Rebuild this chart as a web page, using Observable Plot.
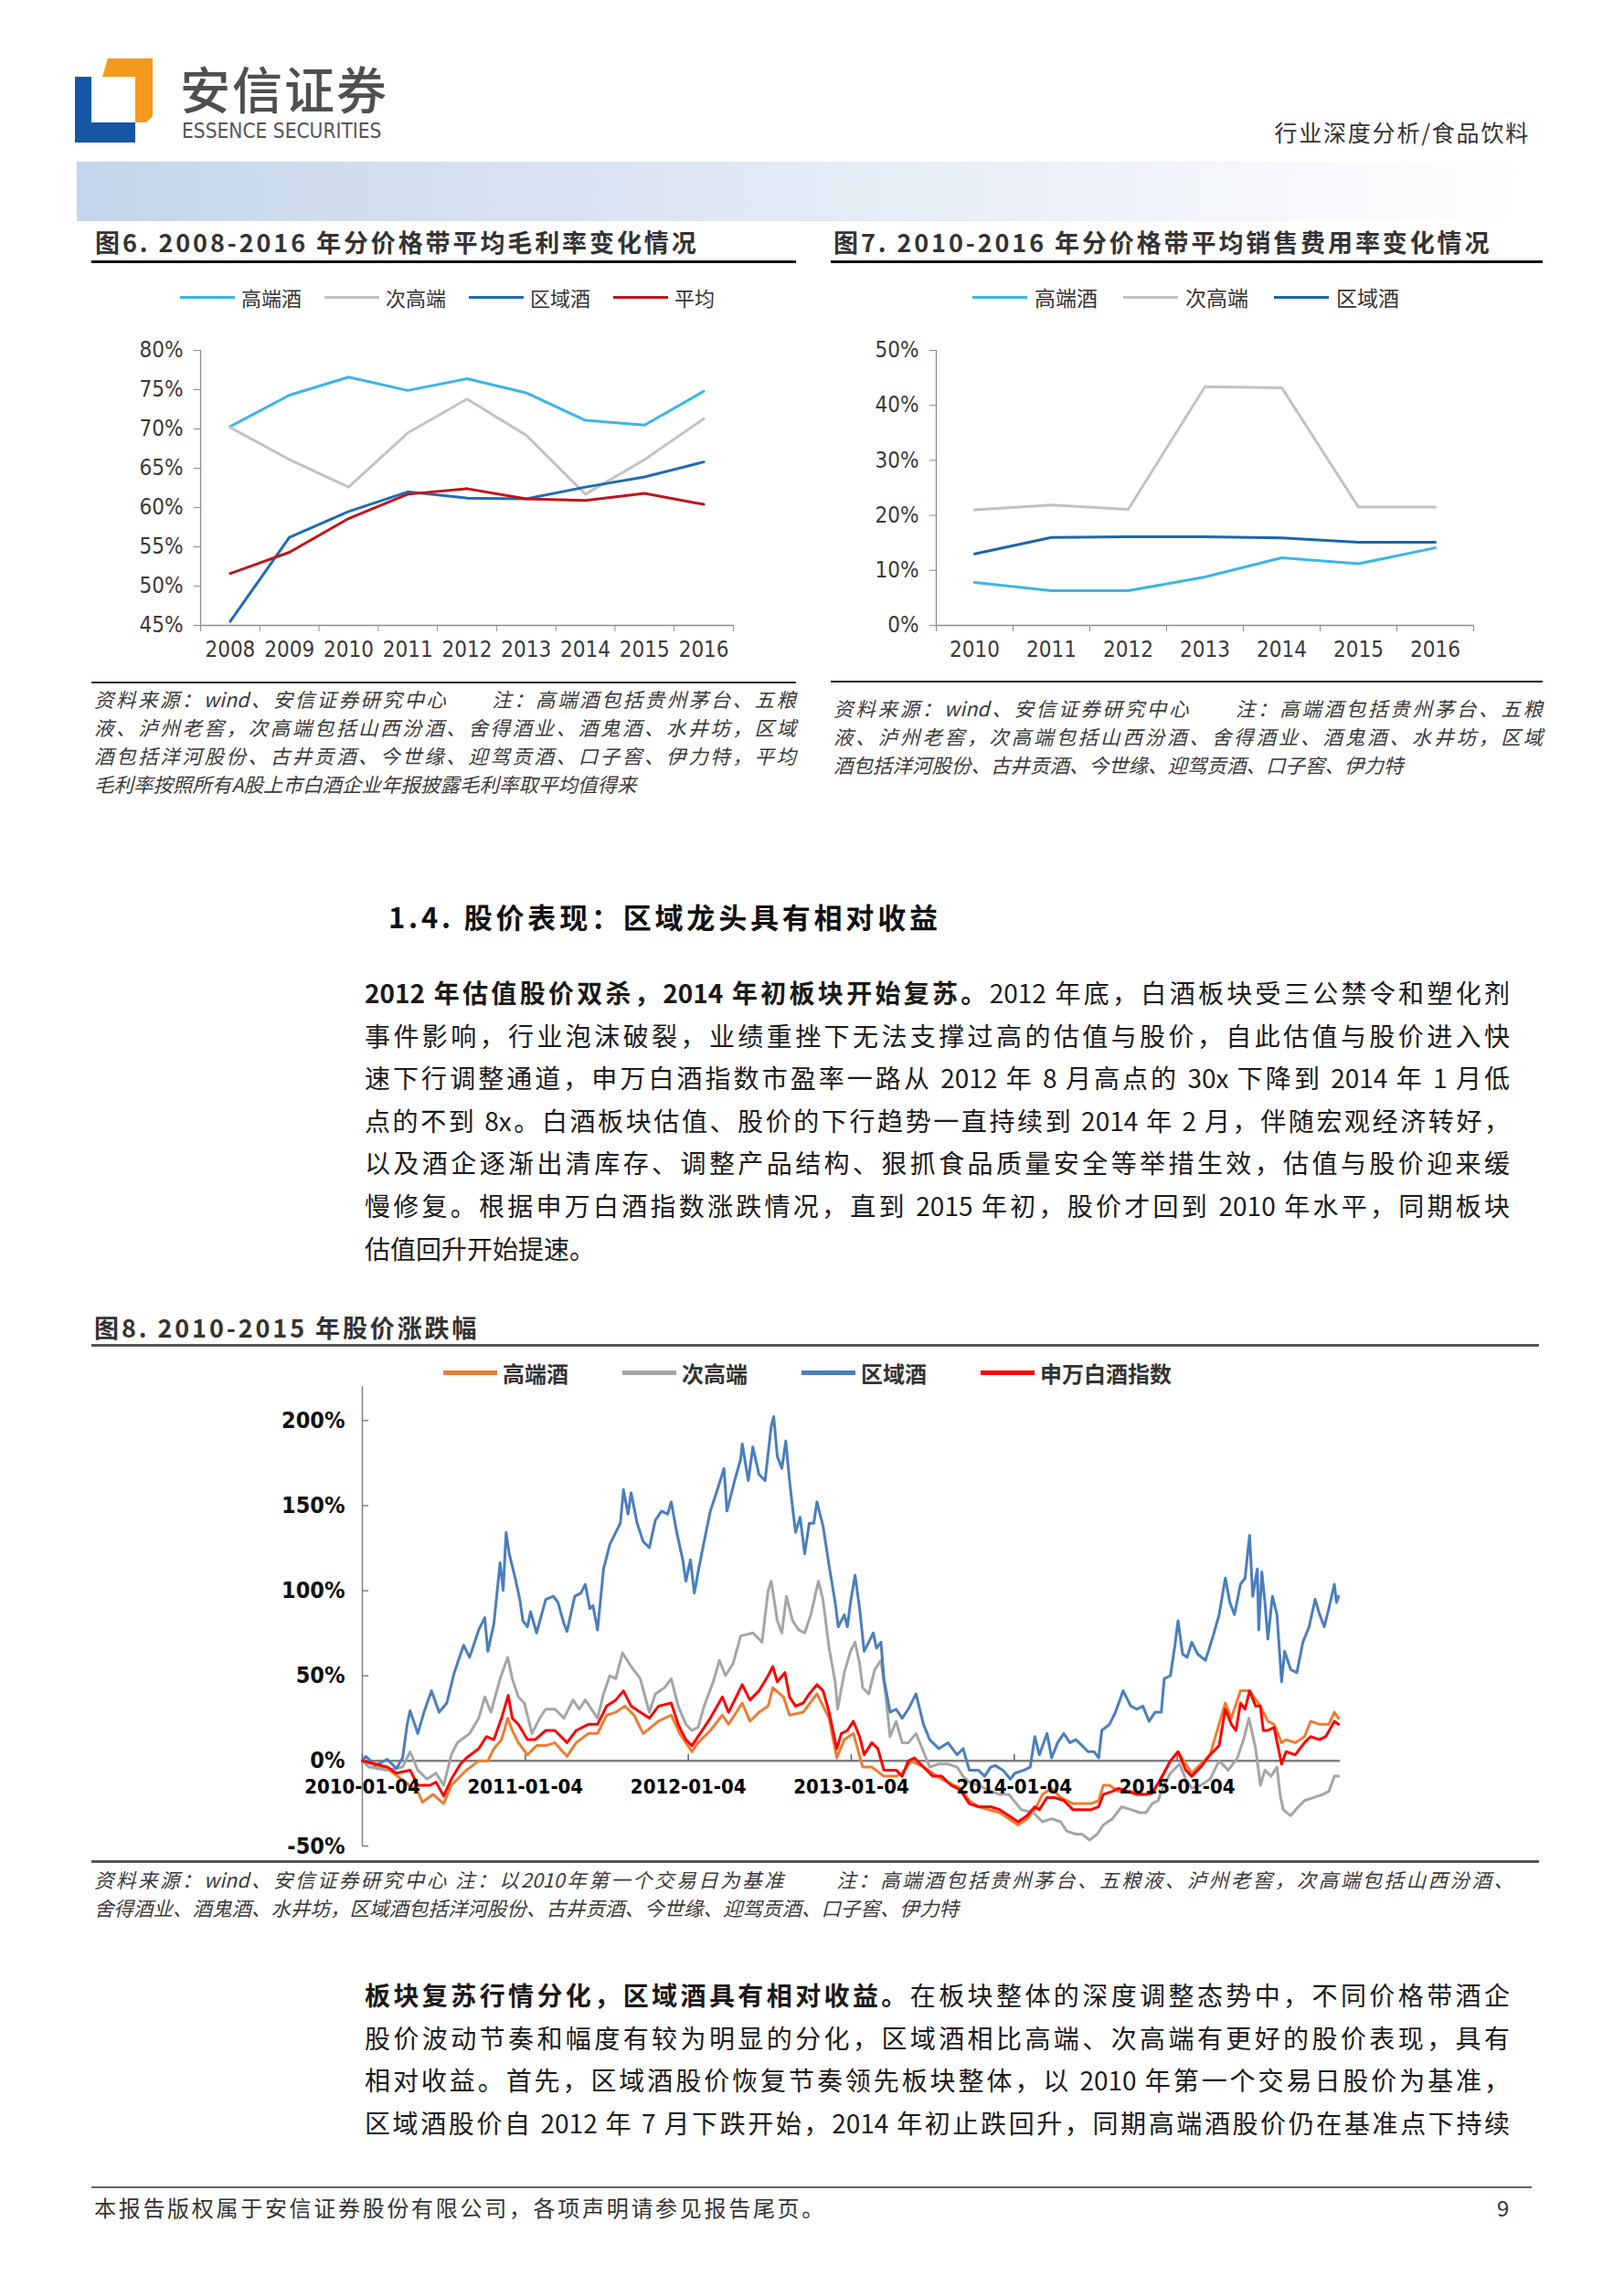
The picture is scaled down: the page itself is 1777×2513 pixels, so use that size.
<!DOCTYPE html>
<html><head><meta charset="utf-8">
<script src="https://cdn.jsdelivr.net/npm/d3@7"></script>
<script src="https://cdn.jsdelivr.net/npm/@observablehq/plot@0.6"></script>
<style>
html,body{margin:0;padding:0;background:#fff;}
body{width:1777px;height:2513px;position:relative;overflow:hidden;font-family:"Noto Sans CJK SC",sans-serif;color:#222;}
.abs{position:absolute;white-space:nowrap;}
.ttl{position:absolute;font-weight:700;font-size:27px;color:#333;line-height:40px;white-space:nowrap;letter-spacing:2.9px;}
.hr{position:absolute;}
.src{position:absolute;font-size:21.5px;font-style:italic;color:#3a3a3a;}
.src div{text-align:justify;text-align-last:justify;line-height:31px;height:31px;}
.src div.last{text-align-last:left;}
.para{position:absolute;left:399px;width:1253px;font-size:28px;color:#1a1a1a;}
.para div{text-align:justify;text-align-last:justify;line-height:46.6px;height:46.6px;}
.para div.last{text-align-last:left;}
.leg{position:absolute;display:flex;align-items:center;white-space:nowrap;}
.leg .it{display:flex;align-items:center;}
.leg .ln{display:inline-block;}
.plot{position:absolute;}
.plot svg{overflow:visible;}
</style></head>
<body>
<script>
// ---------------- data: chart 6 (gross margin, %) ----------------
const years6 = [2008, 2009, 2010, 2011, 2012, 2013, 2014, 2015, 2016];
const names6 = ["高端酒", "次高端", "区域酒", "平均"];
const colors6 = ["#3db5e6", "#c2c2c6", "#1f6db3", "#c0141c"];
const gmHigh = [70.3, 74.3, 76.6, 74.9, 76.4, 74.6, 71.1, 70.5, 74.8];
const gmSub  = [70.2, 66.1, 62.6, 69.5, 73.8, 69.2, 61.7, 66.1, 71.3];
const gmReg  = [45.5, 56.2, 59.5, 62.0, 61.2, 61.1, 62.6, 63.9, 65.8];
const gmAvg  = [51.6, 54.3, 58.6, 61.7, 62.4, 61.1, 60.9, 61.8, 60.4];
const yTicks6 = [45, 50, 55, 60, 65, 70, 75, 80];

// ---------------- data: chart 7 (selling expense ratio, %) ----------------
const years7 = [2010, 2011, 2012, 2013, 2014, 2015, 2016];
const names7 = ["高端酒", "次高端", "区域酒"];
const colors7 = ["#3db5e6", "#c2c2c6", "#1a66ad"];
const seHigh = [7.8, 6.3, 6.3, 8.8, 12.3, 11.2, 14.1];
const seSub  = [21.0, 21.9, 21.1, 43.4, 43.2, 21.5, 21.5];
const seReg  = [13.0, 16.0, 16.1, 16.1, 15.9, 15.1, 15.1];
const yTicks7 = [0, 10, 20, 30, 40, 50];

// ---------------- data: chart 8 (price change since 2010-01-04, %) ----------------
// t = years after 2010-01-04
const names8 = ["高端酒", "次高端", "区域酒", "申万白酒指数"];
const colors8 = ["#ed7d31", "#a5a5a5", "#4a7ebf", "#ff0000"];
const yearTicks8 = [2010, 2011, 2012, 2013, 2014, 2015];
const yearLabels8 = ["2010-01-04", "2011-01-04", "2012-01-04", "2013-01-04", "2014-01-04", "2015-01-04"];
const yTicks8 = [-50, 0, 50, 100, 150, 200];

const hiT = [0,.153,.340,.368,.434,.499,.546,.639,.714,.770,.807,.854,.892,.920,.957,1.013,1.069,1.125,1.181,1.256,1.312,1.387,1.443,1.499,1.555,1.611,1.667,1.723,1.817,1.895,1.948,2.022,2.060,2.135,2.209,2.247,2.331,2.378,2.434,2.490,2.518,2.584,2.621,2.705,2.789,2.864,2.911,2.957,3.013,3.070,3.126,3.200,3.275,3.312,3.369,3.443,3.555,3.668,3.724,3.780,3.911,4.023,4.079,4.126,4.173,4.229,4.285,4.360,4.416,4.472,4.518,4.546,4.584,4.640,4.715,4.789,4.846,4.902,4.958,5.005,5.089,5.201,5.295,5.332,5.388,5.444,5.510,5.556,5.594,5.640,5.668,5.724,5.781,5.818,5.874,5.930,5.964,5.990];
const hiV = [0,-4.5,-17.9,-24.2,-19.7,-25.1,-14.3,-5.4,0,0,7.2,12.5,25.1,17.9,10.7,3.6,9.0,9.0,10.7,2.7,10.7,16.1,16.1,26.9,28.6,32.2,26.9,16.1,23.3,26.9,16.1,5.4,10.7,17.9,26.9,21.5,34.0,23.3,28.6,32.2,43.0,37.6,26.9,28.6,39.4,25.1,1.8,12.5,16.1,-3.6,-3.6,-9.0,-9.0,-7.2,0,-3.6,-10.7,-16.0,-23.3,-26.9,-30.4,-37.6,-34.0,-28.6,-19.7,-16.1,-21.5,-25.1,-25.1,-25.1,-23.3,-14.3,-14.3,-17.9,-17.9,-19.7,-19.0,-10.0,0,5.4,-7.2,3.6,34.0,25.1,41.2,41.2,32.2,23.3,21.5,10.7,12.5,10.7,14.3,23.3,21.5,21.5,28.6,25.1];

const subT = [0,.041,.153,.247,.293,.340,.396,.452,.499,.546,.583,.658,.714,.751,.789,.845,.892,.920,.957,.994,1.041,1.088,1.125,1.181,1.237,1.293,1.331,1.368,1.443,1.480,1.518,1.555,1.596,1.649,1.705,1.761,1.798,1.854,1.895,1.938,1.985,2.022,2.060,2.097,2.153,2.191,2.228,2.275,2.321,2.396,2.452,2.490,2.509,2.546,2.574,2.602,2.640,2.677,2.714,2.752,2.798,2.826,2.864,2.901,2.916,2.957,2.995,3.023,3.051,3.070,3.107,3.144,3.182,3.210,3.238,3.275,3.312,3.350,3.397,3.443,3.481,3.537,3.593,3.649,3.686,3.724,3.780,3.855,3.911,3.967,4.042,4.117,4.173,4.229,4.285,4.322,4.378,4.416,4.462,4.509,4.546,4.602,4.659,4.715,4.771,4.808,4.846,4.883,4.902,4.958,5.014,5.052,5.089,5.145,5.201,5.257,5.313,5.369,5.407,5.440,5.481,5.510,5.538,5.575,5.612,5.631,5.650,5.696,5.743,5.781,5.837,5.893,5.930,5.964,5.990];
const subV = [0,-3.6,-5.4,-3.6,5.4,-5.4,-10.7,-7.2,-14.3,3.6,10.7,16.1,25.1,37.6,28.6,48.3,60.9,48.3,37.6,34.0,16.1,25.1,30.4,30.4,25.1,35.8,30.4,35.8,25.1,39.4,50.1,48.3,63.5,55.5,48.3,28.6,39.4,43.0,48.3,32.2,21.5,17.9,19.7,32.2,46.5,59.1,50.1,57.3,73.4,75.2,69.8,100.2,105.6,82.3,75.2,96.7,82.3,77.0,75.2,85.9,105.6,94.9,66.2,46.5,30.4,51.9,64.4,69.8,57.3,43.0,39.4,53.7,59.1,39.4,14.3,23.3,10.7,10.7,16.1,5.4,-3.6,-1.8,-1.8,-3.6,-9.0,-12.5,-14.3,-17.9,-19.7,-19.7,-28.6,-30.4,-35.8,-34.0,-35.8,-41.2,-43.0,-43.0,-46.5,-43.0,-37.6,-34.0,-26.9,-28.6,-30.4,-30.4,-25.1,-23.3,-17.9,-7.2,-1.8,-10.7,-16.1,-14.3,-10.7,0,-5.4,1.8,12.5,25.1,7.2,-14.3,-5.4,-9.0,-3.6,-19.7,-28.6,-32.2,-26.9,-23.3,-21.5,-19.7,-17.9,-9.0,-9.0];

const regT = [0,.022,.079,.153,.209,.247,.275,.293,.340,.378,.424,.471,.518,.564,.621,.658,.714,.751,.770,.807,.845,.864,.882,.901,.938,.966,.985,1.013,1.032,1.069,1.125,1.172,1.200,1.237,1.256,1.303,1.340,1.368,1.396,1.415,1.443,1.480,1.518,1.555,1.583,1.602,1.630,1.649,1.686,1.723,1.761,1.798,1.836,1.873,1.895,1.929,1.966,1.985,2.013,2.037,2.060,2.097,2.135,2.172,2.219,2.237,2.284,2.321,2.331,2.368,2.396,2.434,2.471,2.509,2.524,2.546,2.574,2.598,2.621,2.640,2.658,2.686,2.714,2.742,2.770,2.789,2.827,2.864,2.901,2.920,2.957,2.976,2.995,3.023,3.051,3.079,3.107,3.135,3.154,3.182,3.200,3.238,3.275,3.312,3.350,3.397,3.443,3.481,3.537,3.593,3.649,3.686,3.724,3.780,3.818,3.855,3.883,3.930,3.976,4.004,4.061,4.098,4.126,4.154,4.201,4.229,4.266,4.304,4.341,4.378,4.416,4.453,4.490,4.518,4.537,4.584,4.621,4.668,4.715,4.752,4.789,4.827,4.864,4.902,4.920,4.958,4.986,5.005,5.033,5.061,5.089,5.126,5.173,5.220,5.257,5.295,5.323,5.351,5.388,5.416,5.444,5.463,5.491,5.500,5.519,5.538,5.556,5.584,5.612,5.640,5.659,5.696,5.734,5.771,5.809,5.846,5.874,5.902,5.930,5.964,5.977,5.990];
const regV = [0,2.7,-2.7,0.9,-4.5,1.8,21.5,29.5,16.1,28.6,41.2,28.6,34.0,51.9,68.0,60.9,77.0,84.1,64.4,80.6,116.4,100.2,134.3,121.7,107.4,94.9,82.3,78.8,87.7,75.2,94.9,96.7,93.1,80.6,76.1,96.7,98.5,103.8,89.5,91.3,77.0,112.8,127.1,134.3,139.6,159.3,145.0,157.5,139.6,128.9,125.3,141.4,146.8,145.0,152.2,134.3,118.1,105.6,118.1,98.5,111.0,128.9,146.8,157.5,171.8,146.8,164.7,177.2,186.2,164.7,184.4,168.3,164.7,196.9,202.3,179.0,171.8,188.0,164.7,148.6,134.3,143.2,121.7,139.6,139.6,152.2,137.8,114.6,93.1,78.8,85.9,78.8,93.1,109.2,89.5,64.4,69.8,75.2,66.2,69.8,48.3,28.6,30.4,25.1,30.4,39.4,21.5,12.5,7.2,10.7,3.6,7.2,-5.4,-5.4,-9.0,-3.6,-2.7,-5.4,-10.7,-7.2,-5.4,-3.6,14.3,3.6,16.1,1.8,10.7,16.1,10.7,12.5,9.0,5.4,5.4,1.8,17.9,21.5,28.6,41.2,32.2,30.4,32.2,23.3,28.6,28.6,48.3,50.1,68.0,82.3,62.7,60.9,69.8,62.7,59.1,73.4,85.9,107.4,93.1,85.9,103.8,107.4,132.5,96.7,112.8,77.0,111.0,93.1,71.6,96.7,85.9,46.5,64.4,53.7,51.9,69.8,78.8,94.9,85.9,78.8,89.5,103.8,93.1,96.7];

const swT = [0,.041,.153,.209,.293,.340,.415,.452,.499,.546,.602,.639,.714,.761,.807,.854,.895,.920,.957,1.013,1.060,1.125,1.181,1.256,1.312,1.387,1.443,1.499,1.555,1.602,1.649,1.705,1.761,1.817,1.895,1.938,1.985,2.022,2.060,2.135,2.209,2.247,2.331,2.378,2.434,2.490,2.518,2.546,2.593,2.621,2.658,2.705,2.742,2.789,2.827,2.864,2.911,2.939,2.976,3.013,3.051,3.079,3.126,3.163,3.200,3.238,3.275,3.312,3.350,3.387,3.443,3.500,3.555,3.612,3.668,3.724,3.780,3.855,3.911,3.967,4.023,4.079,4.126,4.154,4.201,4.247,4.304,4.360,4.416,4.472,4.518,4.546,4.602,4.640,4.696,4.752,4.808,4.846,4.902,4.958,5.005,5.052,5.089,5.145,5.201,5.257,5.295,5.332,5.360,5.388,5.416,5.444,5.481,5.510,5.528,5.556,5.594,5.640,5.668,5.724,5.781,5.818,5.874,5.911,5.964,5.990];
const swV = [0,-0.9,-3.6,-7.2,-5.4,-14.3,-14.3,-12.5,-20.6,-10.7,-1.8,1.8,7.2,14.3,12.5,25.1,38.5,25.1,21.5,12.5,12.5,17.9,17.9,10.7,17.9,21.5,21.5,32.2,35.8,41.2,32.2,28.6,25.1,32.2,34.0,21.5,12.5,9.0,14.3,25.1,37.6,28.6,44.8,35.8,41.2,50.1,55.5,46.5,51.9,37.6,32.2,34.0,39.4,44.8,41.2,28.6,7.2,16.1,17.9,23.3,14.3,3.6,10.7,7.2,-5.4,-5.4,-5.4,-9.0,0,1.8,-3.6,-9.0,-9.0,-14.3,-17.0,-25.1,-26.9,-26.9,-28.6,-32.2,-35.8,-32.2,-26.9,-28.6,-21.5,-21.5,-23.3,-28.6,-28.6,-28.6,-26.9,-19.7,-17.9,-16.1,-17.9,-19.7,-19.7,-19.0,-10.0,0,5.4,-5.4,-9.0,-3.6,3.6,9.0,30.4,21.5,17.9,34.0,30.4,41.2,32.2,32.2,17.9,17.9,19.7,-1.8,5.4,3.6,10.7,14.3,12.5,14.3,23.3,21.5];

// ---------------- text ----------------
const title6 = "图6. 2008-2016 年分价格带平均毛利率变化情况";
const title7 = "图7. 2010-2016 年分价格带平均销售费用率变化情况";
const title8 = "图8. 2010-2015 年股价涨跌幅";
const src6 = ["资料来源：wind、安信证券研究中心　　注：高端酒包括贵州茅台、五粮",
  "液、泸州老窖，次高端包括山西汾酒、舍得酒业、酒鬼酒、水井坊，区域",
  "酒包括洋河股份、古井贡酒、今世缘、迎驾贡酒、口子窖、伊力特，平均",
  "毛利率按照所有A股上市白酒企业年报披露毛利率取平均值得来"];
const src7 = ["资料来源：wind、安信证券研究中心　　注：高端酒包括贵州茅台、五粮",
  "液、泸州老窖，次高端包括山西汾酒、舍得酒业、酒鬼酒、水井坊，区域",
  "酒包括洋河股份、古井贡酒、今世缘、迎驾贡酒、口子窖、伊力特"];
const src8 = ["资料来源：wind、安信证券研究中心 注：以2010年第一个交易日为基准　　 注：高端酒包括贵州茅台、五粮液、泸州老窖，次高端包括山西汾酒、",
  "舍得酒业、酒鬼酒、水井坊，区域酒包括洋河股份、古井贡酒、今世缘、迎驾贡酒、口子窖、伊力特"];
const heading = "1.4. 股价表现：区域龙头具有相对收益";
const para1 = [
  ["2012 年估值股价双杀，2014 年初板块开始复苏。", "2012 年底，白酒板块受三公禁令和塑化剂"],
  ["", "事件影响，行业泡沫破裂，业绩重挫下无法支撑过高的估值与股价，自此估值与股价进入快"],
  ["", "速下行调整通道，申万白酒指数市盈率一路从 2012 年 8 月高点的 30x 下降到 2014 年 1 月低"],
  ["", "点的不到 8x。白酒板块估值、股价的下行趋势一直持续到 2014 年 2 月，伴随宏观经济转好，"],
  ["", "以及酒企逐渐出清库存、调整产品结构、狠抓食品质量安全等举措生效，估值与股价迎来缓"],
  ["", "慢修复。根据申万白酒指数涨跌情况，直到 2015 年初，股价才回到 2010 年水平，同期板块"],
  ["", "估值回升开始提速。"]];
const para2 = [
  ["板块复苏行情分化，区域酒具有相对收益。", "在板块整体的深度调整态势中，不同价格带酒企"],
  ["", "股价波动节奏和幅度有较为明显的分化，区域酒相比高端、次高端有更好的股价表现，具有"],
  ["", "相对收益。首先，区域酒股价恢复节奏领先板块整体，以 2010 年第一个交易日股价为基准，"],
  ["", "区域酒股价自 2012 年 7 月下跌开始，2014 年初止跌回升，同期高端酒股价仍在基准点下持续"]];
const footer = "本报告版权属于安信证券股份有限公司，各项声明请参见报告尾页。";
const pageNo = "9";

// ---------------- helpers ----------------
const NARROW = '"Liberation Sans Narrow","Arial Narrow","DejaVu Sans Condensed",sans-serif';
function el(tag, cls, style, html) {
  const e = document.createElement(tag);
  if (cls) e.className = cls;
  if (style) e.style.cssText = style;
  if (html != null) e.innerHTML = html;
  document.body.appendChild(e);
  return e;
}
function legend(left, cy, names, colors, o) {
  const box = el("div", "leg", `left:${left}px;top:${cy - 20}px;height:40px;gap:${o.gap}px;font-size:${o.fs}px;font-weight:${o.fw};color:#333;`);
  names.forEach((n, i) => {
    const it = document.createElement("div"); it.className = "it";
    it.innerHTML = `<span class="ln" style="width:${o.lw}px;height:${o.th}px;background:${colors[i]};margin-right:${o.tg}px"></span><span>${n}</span>`;
    box.appendChild(it);
  });
}
function srcBlock(left, top, width, lines, lastJustify) {
  const b = el("div", "src", `left:${left}px;top:${top}px;width:${width}px;`);
  lines.forEach((l, i) => {
    const d = document.createElement("div");
    if (i === lines.length - 1 && !lastJustify) d.className = "last";
    d.textContent = l; b.appendChild(d);
  });
  return b;
}
function paraBlock(top, lines, justifyLast) {
  const b = el("div", "para", `top:${top}px;`);
  lines.forEach((l, i) => {
    const d = document.createElement("div");
    if (i === lines.length - 1 && !justifyLast) d.className = "last";
    d.innerHTML = (l[0] ? `<b>${l[0]}</b>` : "") + l[1];
    b.appendChild(d);
  });
}

// ---------------- header ----------------
el("div", "abs", "left:80px;top:60px;", `<svg width="92" height="100" viewBox="80 60 92 100">
<path d="M82,84 L100,84 L100,134 L148,134 L148,156 L82,156 Z" fill="#1557a6"/>
<path d="M118,64 L167,64 L167,127 L160,134 L148,134 L148,84 L112,84 Z" fill="#f39a1e"/></svg>`);
el("div", "abs", "left:197px;top:60px;font-size:55px;line-height:70px;font-weight:500;color:#4f4f4f;letter-spacing:2px;", "安信证券");
el("div", "abs", `left:199px;top:129px;font-size:22.5px;line-height:28px;color:#555;font-family:${NARROW};letter-spacing:0px;`, "ESSENCE SECURITIES");
el("div", "abs", "right:103px;top:127px;font-size:25px;line-height:34px;color:#333;letter-spacing:1.8px;", "行业深度分析/食品饮料");
el("div", "abs", "left:84px;top:177px;width:1590px;height:65px;background:linear-gradient(to right,#c5d5eb 0%,#d9e4f2 35%,#eef2f9 70%,#ffffff 100%);");

// ---------------- chart titles ----------------
el("div", "ttl", "left:104px;top:245px;", title6);
el("div", "hr", "left:100px;top:285px;width:771px;height:3px;background:#111;");
el("div", "ttl", "left:912px;top:245px;", title7);
el("div", "hr", "left:909px;top:285px;width:779px;height:3px;background:#111;");

// ---------------- chart 6 ----------------
legend(197, 325, names6, colors6, {gap: 25, fs: 22, fw: 400, lw: 60, th: 3, tg: 7});
{
  const rows = [gmHigh, gmSub, gmReg, gmAvg].flatMap((arr, k) => arr.map((v, i) => ({year: years6[i], v: v / 100, s: names6[k]})));
  const bounds = d3.range(years6.length + 1).map(i => years6[0] - 0.5 + i);
  const p = Plot.plot({
    width: 700, height: 400, marginLeft: 99, marginRight: 18, marginTop: 23, marginBottom: 76,
    style: {fontFamily: NARROW, fontSize: "24px", color: "#3a3a3a", background: "transparent"},
    x: {domain: [years6[0] - 0.5, years6[years6.length - 1] + 0.5]},
    y: {domain: [yTicks6[0] / 100, yTicks6[yTicks6.length - 1] / 100]},
    color: {domain: names6, range: colors6},
    marks: [
      Plot.ruleX([years6[0] - 0.5], {stroke: "#8c8c8c", strokeWidth: 1.3}),
      Plot.ruleY([yTicks6[0] / 100], {stroke: "#8c8c8c", strokeWidth: 1.3}),
      Plot.axisY(yTicks6.map(d => d / 100), {tickFormat: d => Math.round(d * 100) + "%", tickSize: 7, tickPadding: 12, stroke: "#8c8c8c", label: null}),
      Plot.axisX(bounds, {tickFormat: () => "", tickSize: 7, stroke: "#8c8c8c", label: null}),
      Plot.axisX(years6, {tickFormat: d => String(d), tickSize: 0, tickPadding: 17, label: null}),
      Plot.line(rows, {x: "year", y: "v", stroke: "s", strokeWidth: 3})
    ]
  });
  el("div", "plot", "left:120px;top:360px;").appendChild(p);
}
el("div", "hr", "left:100px;top:746px;width:771px;height:1.5px;background:#222;");
srcBlock(103, 749, 768, src6, false);

// ---------------- chart 7 ----------------
legend(1064, 325, names7, colors7, {gap: 28, fs: 23, fw: 400, lw: 60, th: 3, tg: 8});
{
  const rows = [seHigh, seSub, seReg].flatMap((arr, k) => arr.map((v, i) => ({year: years7[i], v: v / 100, s: names7[k]})));
  const bounds = d3.range(years7.length + 1).map(i => years7[0] - 0.5 + i);
  const p = Plot.plot({
    width: 720, height: 400, marginLeft: 104, marginRight: 28, marginTop: 23, marginBottom: 76,
    style: {fontFamily: NARROW, fontSize: "24px", color: "#3a3a3a", background: "transparent"},
    x: {domain: [years7[0] - 0.5, years7[years7.length - 1] + 0.5]},
    y: {domain: [yTicks7[0] / 100, yTicks7[yTicks7.length - 1] / 100]},
    color: {domain: names7, range: colors7},
    marks: [
      Plot.ruleX([years7[0] - 0.5], {stroke: "#8c8c8c", strokeWidth: 1.3}),
      Plot.ruleY([0], {stroke: "#8c8c8c", strokeWidth: 1.3}),
      Plot.axisY(yTicks7.map(d => d / 100), {tickFormat: d => Math.round(d * 100) + "%", tickSize: 7, tickPadding: 12, stroke: "#8c8c8c", label: null}),
      Plot.axisX(bounds, {tickFormat: () => "", tickSize: 7, stroke: "#8c8c8c", label: null}),
      Plot.axisX(years7, {tickFormat: d => String(d), tickSize: 0, tickPadding: 17, label: null}),
      Plot.line(rows, {x: "year", y: "v", stroke: "s", strokeWidth: 3})
    ]
  });
  el("div", "plot", "left:920px;top:360px;").appendChild(p);
}
el("div", "hr", "left:909px;top:745px;width:779px;height:1.5px;background:#222;");
srcBlock(912, 759, 776, src7, false);

// ---------------- section text ----------------
el("div", "abs", "left:425px;top:981px;font-size:31px;line-height:44px;font-weight:700;color:#111;letter-spacing:3.8px;", heading);
paraBlock(1063, para1, false);

// ---------------- chart 8 ----------------
el("div", "ttl", "left:103px;top:1433px;", title8);
el("div", "hr", "left:100px;top:1471px;width:1584px;height:3px;background:#555;");
legend(485, 1502, names8, colors8, {gap: 59, fs: 24, fw: 700, lw: 59, th: 5, tg: 6});
{
  const series = [[hiT, hiV], [subT, subV], [regT, regV], [swT, swV]];
  const rows = series.flatMap(([T, V], k) => T.map((t, i) => ({x: 2010 + t, v: V[i] / 100, s: names8[k]})));
  const p = Plot.plot({
    width: 1200, height: 540, marginLeft: 96, marginRight: 34, marginTop: 12, marginBottom: 25,
    style: {fontFamily: NARROW, fontSize: "25px", fontWeight: "bold", color: "#111", background: "transparent"},
    x: {domain: [2010, 2016], axis: null},
    y: {domain: [-0.5, 2.2]},
    color: {domain: names8, range: colors8},
    marks: [
      Plot.ruleX([2010], {stroke: "#808080", strokeWidth: 1.5}),
      Plot.ruleY(yTicks8.map(d => d / 100), {x1: 2010, x2: 2010.04, stroke: "#808080", strokeWidth: 1.5}),
      Plot.axisY(yTicks8.map(d => d / 100), {tickFormat: d => Math.round(d * 100) + "%", tickSize: 0, tickPadding: 19, label: null}),
      Plot.ruleY([0], {stroke: "#808080", strokeWidth: 2.5}),
      Plot.ruleX(yearTicks8, {y1: 0, y2: 0.038, stroke: "#606060", strokeWidth: 1.5}),
      Plot.line(rows, {x: "x", y: "v", stroke: "s", strokeWidth: 3}),
      Plot.text(yearTicks8, {x: d => d, y: 0, dy: 29, text: (d, i) => yearLabels8[i], fontSize: 22, fontWeight: "bold", fill: "#000"})
    ]
  });
  el("div", "plot", "left:300px;top:1505px;").appendChild(p);
}
el("div", "hr", "left:100px;top:2036px;width:1584px;height:3px;background:#555;");
srcBlock(103, 2041, 1553, src8, false);

// ---------------- bottom paragraph & footer ----------------
paraBlock(2160, para2, true);
el("div", "hr", "left:100px;top:2393px;width:1576px;height:1.5px;background:#666;");
el("div", "abs", "left:103px;top:2399px;font-size:24px;line-height:34px;color:#333;letter-spacing:2.7px;", footer);
el("div", "abs", "left:1638px;top:2399px;font-size:24px;line-height:34px;color:#333;", pageNo);
</script>
</body></html>
